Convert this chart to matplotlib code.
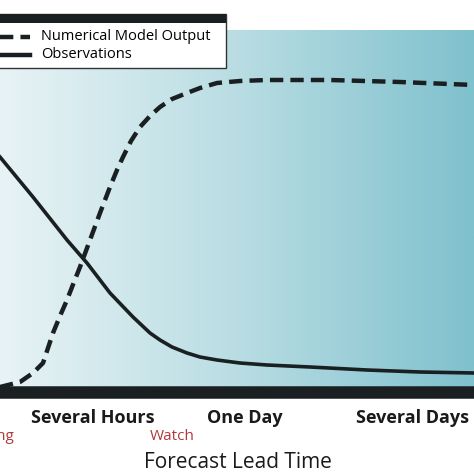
import numpy as np
import matplotlib
matplotlib.use("Agg")
import matplotlib.pyplot as plt
from matplotlib.patches import Rectangle
from matplotlib.colors import LinearSegmentedColormap

# Conceptual curves (x: lead-time units 0..474, y: skill units 0..362)
model_x = [0, 20, 33, 43, 53, 60, 67, 74, 80, 90, 100, 110, 117, 123, 131, 140, 150, 160, 172, 187, 200, 217, 240, 267, 330, 400, 474]
model_y = [5, 10, 19, 29, 59, 76, 92, 110, 125, 152, 179, 205, 222, 235, 251, 265, 276, 285, 293, 299, 304, 309, 311, 312, 312, 310, 307]
obs_x = [0, 33, 67, 87, 110, 133, 150, 160, 172, 187, 200, 217, 240, 267, 310, 367, 420, 474]
obs_y = [235, 195, 152, 129, 99, 75, 59, 52, 45, 39, 35, 32, 29, 27, 25, 22, 20, 19]
tick_labels = ["Several Hours", "One Day", "Several Days"]
tick_pos = [93, 245, 413]
red_labels = ["Warning", "Watch"]

W = H = 474
fig = plt.figure(figsize=(4.74, 4.74), dpi=100)
fig.patch.set_facecolor("white")
def fx(px): return px / W
def fy(py): return 1 - py / H

ax = fig.add_axes([0, fy(392), 1, (392 - 30) / H])
grad = np.linspace(0, 1, 256)[None, :]
cmap = LinearSegmentedColormap.from_list("g", ["#e8f3f5", "#b9dde3", "#7fc1cd"])
ax.imshow(grad, extent=[0, 474, 0, 362], aspect="auto", cmap=cmap, zorder=0)
ax.plot(model_x, model_y, color="#1a1f22", lw=3.2, ls=(0, (3, 1.6)), zorder=2,
        solid_joinstyle="round")
ax.plot(obs_x, obs_y, color="#1a1f22", lw=2.6, zorder=2, solid_joinstyle="round")
ax.set_xlim(0, 474); ax.set_ylim(0, 362)
ax.set_xticks([]); ax.set_yticks([])
for s in ["top", "left", "right"]:
    ax.spines[s].set_visible(False)
ax.spines["bottom"].set_linewidth(9)
ax.spines["bottom"].set_color("#1a1f22")

fam = ["Open Sans", "DejaVu Sans"]
for lab, p in zip(tick_labels, tick_pos):
    fig.text(fx(p), fy(418), lab, ha="center", va="center", fontsize=13,
             fontweight="bold", family=fam, color="#1a1a1a")
fig.text(fx(15), fy(437), red_labels[0], ha="right", va="center", fontsize=11, family=fam, color="#b03a3a")
fig.text(fx(172), fy(437), red_labels[1], ha="center", va="center", fontsize=11, family=fam, color="#b03a3a")
fig.text(fx(238), fy(463), "Forecast Lead Time", ha="center", va="center", fontsize=15, family=fam, color="#1a1a1a")

# legend box
fig.patches.append(Rectangle((fx(-5), fy(68)), fx(231), (68 - 14) / H, transform=fig.transFigure,
                             facecolor="white", edgecolor="#333", lw=1, zorder=5))
fig.patches.append(Rectangle((fx(-5), fy(23)), fx(231), 9 / H, transform=fig.transFigure,
                             facecolor="#1a1f22", edgecolor="none", zorder=6))
fig.lines.append(plt.Line2D([fx(0), fx(30)], [fy(37), fy(37)], transform=fig.transFigure,
                            color="#1a1f22", lw=3.2, ls=(0, (3, 1.6)), zorder=7))
fig.lines.append(plt.Line2D([fx(0), fx(30)], [fy(55), fy(55)], transform=fig.transFigure,
                            color="#1a1f22", lw=3.2, zorder=7))
fig.text(fx(41), fy(37), "Numerical Model Output", ha="left", va="center", fontsize=10.5, family=fam, zorder=8)
fig.text(fx(41), fy(55), "Observations", ha="left", va="center", fontsize=10.5, family=fam, zorder=8)

fig.savefig("out.png", dpi=100)
